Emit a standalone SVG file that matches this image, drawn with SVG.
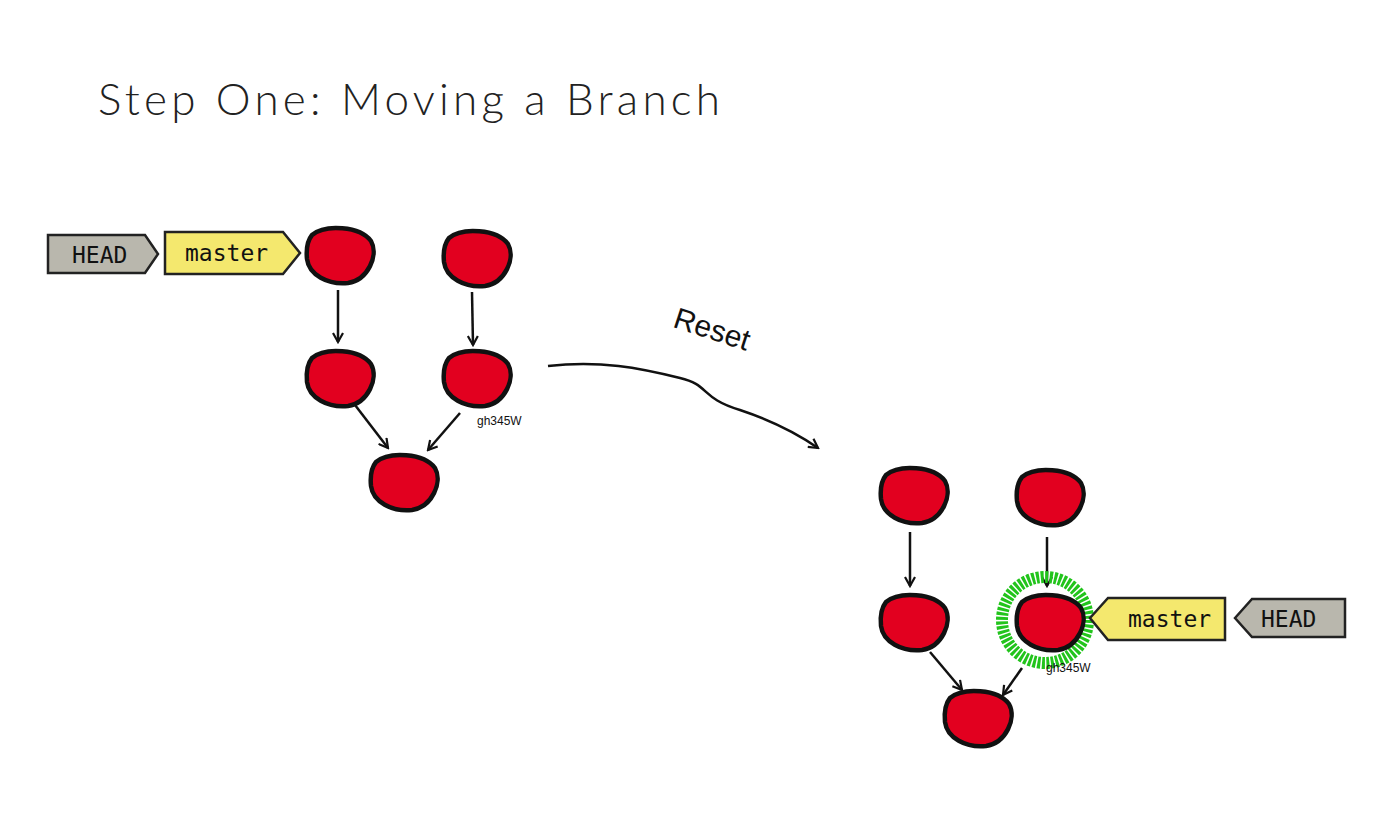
<svg xmlns="http://www.w3.org/2000/svg" xmlns:xlink="http://www.w3.org/1999/xlink" width="1400" height="831" viewBox="0 0 1400 831">
<style>
.blob{fill:#e2001f;stroke:#111;stroke-width:4.5;stroke-linejoin:round}
.con{stroke:#111;stroke-width:2.5;fill:none;marker-end:url(#ah)}
.tag{stroke:#222;stroke-width:2.5}
.tt{font-family:"DejaVu Sans Mono",monospace;font-size:23px;fill:#111}
.lbl{font-family:"Liberation Sans",Arial,sans-serif;font-size:12px;fill:#111}
</style>
<defs>
<marker id="ah" viewBox="0 0 12 12" refX="10" refY="6" markerWidth="12" markerHeight="12" markerUnits="userSpaceOnUse" orient="auto"><path d="M1,1 L10,6 L1,11" fill="none" stroke="#111" stroke-width="2.2"/></marker>
<path id="b" d="M-28,-20 C-15,-31 20,-29 31,-14 C39,0 28,25 8,28 C-12,30 -31,20 -33,4 C-34,-6 -32,-15 -28,-20 Z"/>
</defs>
<rect width="1400" height="831" fill="#fff"/>
<text x="98" y="115" font-family="Lato,sans-serif" font-weight="300" font-size="44" fill="#222" textLength="622" lengthAdjust="spacing">Step One: Moving a Branch</text>
<g id="connectors">
<path class="con" d="M338,290 L338,342"/>
<path class="con" d="M472,292 L473,345"/>
<path class="con" d="M355,405 L388,448"/>
<path class="con" d="M460,413 L428,450"/>
<path class="con" d="M910,532 L910,586"/>
<path class="con" d="M1047,537 L1047,586"/>
<path class="con" d="M930,652 L962,690"/>
<path class="con" d="M1022,668 L1003,695"/>
<path class="con" stroke-width="2" d="M548,366 C600,360 640,368 680,378 C710,385 700,398 740,410 C770,420 795,432 818,448"/>
</g>
<text x="668" y="340" transform="rotate(18 712 345)" font-family="Liberation Sans,Arial,sans-serif" font-size="30" fill="#111">Reset</text>
<g id="head1"><polygon class="tag" fill="#b9b7ad" points="48,235 145,235 158,254 145,273 48,273"/><text class="tt" x="72" y="263">HEAD</text></g>
<g id="master1"><polygon class="tag" fill="#f4e86e" points="165,232 283,232 300,253 283,274 165,274"/><text class="tt" x="185" y="261">master</text></g>
<g id="n1"><use href="#b" class="blob" transform="translate(340,255)"/></g>
<g id="n2"><use href="#b" class="blob" transform="translate(477,258)"/></g>
<g id="n3"><use href="#b" class="blob" transform="translate(340,378)"/></g>
<g id="n4"><use href="#b" class="blob" transform="translate(477,378)"/><text class="lbl" x="477" y="425">gh345W</text></g>
<g id="n5"><use href="#b" class="blob" transform="translate(404,482)"/></g>
<g id="n6"><use href="#b" class="blob" transform="translate(914,495)"/></g>
<g id="n7"><use href="#b" class="blob" transform="translate(1050,497)"/></g>
<g id="n8"><use href="#b" class="blob" transform="translate(914,622)"/></g>
<g id="n9"><circle cx="1045" cy="620" r="43" fill="none" stroke="#22c41c" stroke-width="12" stroke-dasharray="3 1.5"/><use href="#b" class="blob" transform="translate(1050,622)"/><text class="lbl" x="1046" y="672">gh345W</text></g>
<g id="n10"><use href="#b" class="blob" transform="translate(978,718)"/></g>
<g id="master2"><polygon class="tag" fill="#f4e86e" points="1090,618 1108,598 1225,598 1225,640 1108,640"/><text class="tt" x="1128" y="627">master</text></g>
<g id="head2"><polygon class="tag" fill="#b9b7ad" points="1235,618 1252,599 1345,599 1345,637 1252,637"/><text class="tt" x="1261" y="627">HEAD</text></g>
</svg>
